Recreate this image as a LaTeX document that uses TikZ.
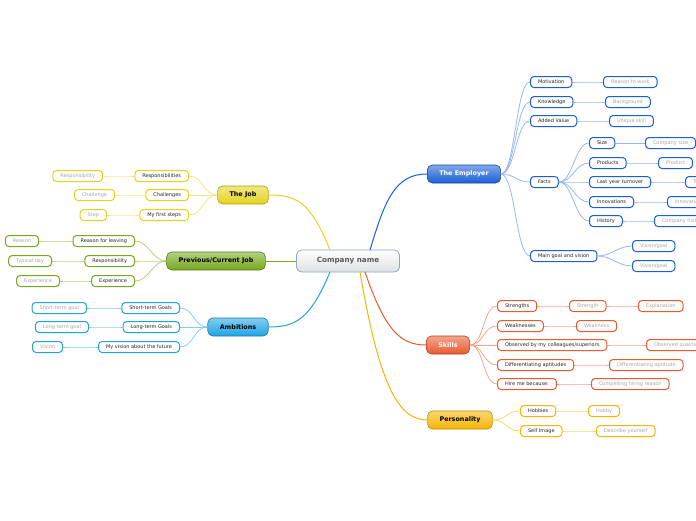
\documentclass[tikz,border=0pt]{standalone}
\usepackage{fontspec}
\setmainfont{DejaVu Sans}
\begin{document}
\begin{tikzpicture}[x=1pt,y=-1pt,
 base/.style={rounded corners=3.5pt,line width=1pt,font=\fontsize{5}{6}\selectfont,inner xsep=7.5pt,minimum height=11pt,inner ysep=0pt,fill=white},
 sub/.style={base,text=black!85},
 leaf/.style={base,text=black!35},
 main/.style={rounded corners=5pt,font=\bfseries\fontsize{6.4}{7}\selectfont,minimum height=18pt,inner xsep=12pt,draw=#1!75!black,line width=0.6pt,top color=#1!55!white,bottom color=#1},
 eb/.style={draw=cEmp},ec/.style={cEmp!45,line width=0.8pt},
 sb/.style={draw=cSk},sc/.style={cSk!55,line width=0.8pt},
 pb/.style={draw=cPer},pc/.style={cPer!55,line width=0.8pt},
 jb/.style={draw=cJob},jc/.style={cJob!55,line width=0.8pt},
 gb/.style={draw=cPrev},gc/.style={cPrev!55,line width=0.8pt},
 ab/.style={draw=cAmb},ac/.style={cAmb!55,line width=0.8pt}]
\definecolor{cEmp}{HTML}{1B5FD6}
\definecolor{cSk}{HTML}{EA5A30}
\definecolor{cPer}{HTML}{F7B500}
\definecolor{cJob}{HTML}{E6D21E}
\definecolor{cPrev}{HTML}{76A81C}
\definecolor{cAmb}{HTML}{1FA3E4}
\definecolor{cCen}{HTML}{8AA6C8}
\newcommand\rk[3]{\draw[#1] (#2.east) .. controls +(14,0) and +(-14,0) .. (#3.west);}
\newcommand\lk[3]{\draw[#1] (#2.west) .. controls +(-14,0) and +(14,0) .. (#3.east);}
\useasboundingbox (0,0) rectangle (696,520);
% central
\node[rounded corners=5pt,draw=cCen,line width=0.8pt,top color=white,bottom color=black!12,text=black!65,font=\bfseries\fontsize{7.2}{8}\selectfont,minimum width=103pt,minimum height=22pt] (c) at (348,261) {Company name};
% main topics
\node[main=cEmp,text=white] (emp) at (464,174) {The Employer};
\node[main=cSk,text=white] (sk) at (448,345) {Skills};
\node[main=cPer] (per) at (460,420) {Personality};
\node[main=cJob] (job) at (243,195) {The Job};
\node[main=cPrev] (prev) at (216,261) {Previous/Current Job};
\node[main=cAmb] (amb) at (238,327) {Ambitions};
% main connectors
\draw[cEmp,line width=1pt] (370,250) .. controls (385,200) and (395,174) .. (emp.west);
\draw[cSk,line width=1pt] (365,272) .. controls (385,330) and (400,345) .. (sk.west);
\draw[cPer,line width=1pt] (360,272) .. controls (380,390) and (400,420) .. (per.west);
\draw[cJob,line width=1pt] (330,250) .. controls (310,200) and (295,195) .. (job.east);
\draw[cPrev,line width=1pt] (c.west) -- (prev.east);
\draw[cAmb,line width=1pt] (330,272) .. controls (310,320) and (295,327) .. (amb.east);
% Employer
\node[sub,eb,anchor=west] (e1) at (530,82) {Motivation};
\node[leaf,eb,anchor=west] (e1a) at (603,82) {Reason to work};
\node[sub,eb,anchor=west] (e2) at (530,102) {Knowledge};
\node[leaf,eb,anchor=west] (e2a) at (605,102) {Background};
\node[sub,eb,anchor=west] (e3) at (530,121) {Added Value};
\node[leaf,eb,anchor=west] (e3a) at (609,121) {Unique skill};
\node[sub,eb,anchor=west] (e4) at (530,182) {Facts};
\node[sub,eb,anchor=west] (f1) at (589,143) {Size};
\node[leaf,eb,anchor=west] (f1a) at (645,143) {Company size};
\node[sub,eb,anchor=west] (f2) at (589,163) {Products};
\node[leaf,eb,anchor=west] (f2a) at (658,163) {Product};
\node[sub,eb,anchor=west] (f3) at (589,182) {Last year turnover};
\node[leaf,eb,anchor=west] (f3a) at (685,182) {Turnover};
\node[sub,eb,anchor=west] (f4) at (589,202) {Innovations};
\node[leaf,eb,anchor=west] (f4a) at (667,202) {Innovation};
\node[sub,eb,anchor=west] (f5) at (589,221) {History};
\node[leaf,eb,anchor=west] (f5a) at (654,221) {Company history};
\node[sub,eb,anchor=west] (e5) at (530,256) {Main goal and vision};
\node[leaf,eb,anchor=west] (e5a) at (632,246) {Vision/goal};
\node[leaf,eb,anchor=west] (e5b) at (632,266) {Vision/goal};
\foreach \n in {e1,e2,e3,e4,e5} {\rk{ec}{emp}{\n}}
\foreach \n in {f1,f2,f3,f4,f5} {\rk{ec}{e4}{\n}\rk{ec}{\n}{\n a}}
\rk{ec}{e1}{e1a}\rk{ec}{e2}{e2a}\rk{ec}{e3}{e3a}\rk{ec}{e5}{e5a}\rk{ec}{e5}{e5b}
% Skills
\node[sub,sb,anchor=west] (s1) at (497,306) {Strengths};
\node[leaf,sb,anchor=west] (s1a) at (569,306) {Strength};
\node[leaf,sb,anchor=west] (s1b) at (638,306) {Explanation};
\node[sub,sb,anchor=west] (s2) at (497,326) {Weaknesses};
\node[leaf,sb,anchor=west] (s2a) at (576,326) {Weakness};
\node[sub,sb,anchor=west] (s3) at (497,345) {Observed by my colleagues/superiors};
\node[leaf,sb,anchor=west] (s3a) at (646,345) {Observed qualities};
\node[sub,sb,anchor=west] (s4) at (497,365) {Differentiating aptitudes};
\node[leaf,sb,anchor=west] (s4a) at (609,365) {Differentiating aptitude};
\node[sub,sb,anchor=west] (s5) at (497,384) {Hire me because:};
\node[leaf,sb,anchor=west] (s5a) at (591,384) {Compelling hiring reason};
\foreach \n in {s1,s2,s3,s4,s5} {\rk{sc}{sk}{\n}\rk{sc}{\n}{\n a}}
\rk{sc}{s1a}{s1b}
% Personality
\node[sub,pb,anchor=west] (p1) at (520,411) {Hobbies};
\node[leaf,pb,anchor=west] (p1a) at (588,411) {Hobby};
\node[sub,pb,anchor=west] (p2) at (520,431) {Self Image};
\node[leaf,pb,anchor=west] (p2a) at (596,431) {Describe yourself};
\foreach \n in {p1,p2} {\rk{pc}{per}{\n}\rk{pc}{\n}{\n a}}
% The Job
\node[sub,jb,anchor=east] (j1) at (189,176) {Responsibilities};
\node[leaf,jb,anchor=east] (j1a) at (103,176) {Responsibility};
\node[sub,jb,anchor=east] (j2) at (189,195) {Challenges};
\node[leaf,jb,anchor=east] (j2a) at (115,195) {Challenge};
\node[sub,jb,anchor=east] (j3) at (189,215) {My first steps};
\node[leaf,jb,anchor=east] (j3a) at (107,215) {Step};
\foreach \n in {j1,j2,j3} {\lk{jc}{job}{\n}\lk{jc}{\n}{\n a}}
% Previous
\node[sub,gb,anchor=east] (g1) at (135,241) {Reason for leaving};
\node[leaf,gb,anchor=east] (g1a) at (39,241) {Reason};
\node[sub,gb,anchor=east] (g2) at (135,261) {Responsibility};
\node[leaf,gb,anchor=east] (g2a) at (52,261) {Typical day};
\node[sub,gb,anchor=east] (g3) at (135,281) {Experience};
\node[leaf,gb,anchor=east] (g3a) at (60,281) {Experience};
\foreach \n in {g1,g2,g3} {\lk{gc}{prev}{\n}\lk{gc}{\n}{\n a}}
% Ambitions
\node[sub,ab,anchor=east] (a1) at (180,308) {Short-term Goals};
\node[leaf,ab,anchor=east] (a1a) at (87,308) {Short-term goal};
\node[sub,ab,anchor=east] (a2) at (180,327) {Long-term Goals};
\node[leaf,ab,anchor=east] (a2a) at (89,327) {Long-term goal};
\node[sub,ab,anchor=east] (a3) at (180,347) {My vision about the future};
\node[leaf,ab,anchor=east] (a3a) at (63,347) {Vision};
\foreach \n in {a1,a2,a3} {\lk{ac}{amb}{\n}\lk{ac}{\n}{\n a}}
\end{tikzpicture}
\end{document}
